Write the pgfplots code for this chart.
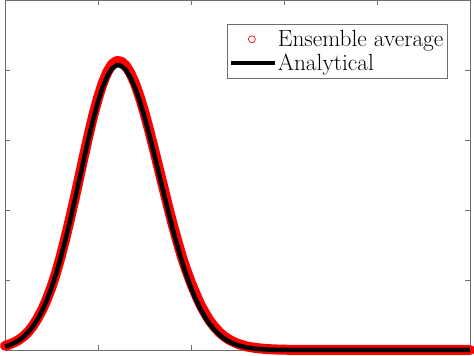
\documentclass[border=0pt]{standalone}
\usepackage{pgfplots}
\usepackage{graphicx}
\pgfplotsset{compat=1.18}
\begin{document}
\begin{tikzpicture}
\definecolor{axgray}{RGB}{110,110,110}
\begin{axis}[
  scale only axis, width=465pt, height=350pt,
  xmin=0, xmax=5, ymin=0, ymax=5,
  xtick={0,1,2,3,4,5}, ytick={0,1,2,3,4,5},
  xticklabels={}, yticklabels={},
  tick align=inside, major tick length=5pt,
  axis line style={axgray, line width=0.7pt},
  every tick/.style={axgray, line width=0.7pt},
  clip=false,
  legend cell align=left,
  legend style={at={(rel axis cs:0.951,0.931)}, anchor=north east,
    draw=axgray, line width=0.6pt, font=\fontsize{17.28}{20}\selectfont,
    inner xsep=2pt, inner ysep=5pt, row sep=4pt,
    nodes={inner xsep=1.5pt, inner ysep=1pt}},
]
\addplot[red, line width=10pt, line join=round, line cap=round,
  legend image code/.code={\draw[red, line width=0.7pt] (0.75cm,0) circle (3.5pt);}]
coordinates {
(0,0.06) (0.05,0.08) (0.1,0.11) (0.15,0.145) (0.2,0.195) (0.25,0.26) (0.3,0.345)
(0.35,0.45) (0.4,0.575) (0.45,0.725) (0.5,0.90) (0.55,1.105) (0.6,1.34) (0.65,1.60)
(0.7,1.88) (0.75,2.17) (0.8,2.475) (0.85,2.78) (0.9,3.075) (0.95,3.355) (1.0,3.60)
(1.05,3.81) (1.1,3.97) (1.15,4.08) (1.2,4.13) (1.25,4.12) (1.3,4.06) (1.35,3.95)
(1.4,3.80) (1.45,3.61) (1.5,3.39) (1.55,3.14) (1.6,2.88) (1.65,2.61) (1.7,2.34)
(1.75,2.07) (1.8,1.81) (1.85,1.57) (1.9,1.34) (1.95,1.14) (2.0,0.96) (2.05,0.80)
(2.1,0.65) (2.15,0.53) (2.2,0.42) (2.25,0.335) (2.3,0.26) (2.35,0.20) (2.4,0.155)
(2.45,0.12) (2.5,0.09) (2.6,0.05) (2.7,0.028) (2.8,0.015) (2.9,0.008) (3.0,0.004)
(3.2,0.001) (3.5,0) (4,0) (4.5,0) (5,0)
};
\addlegendentry{\scalebox{1.35}{Ensemble average}}
\addplot[black, line width=4.5pt, line join=round,
  legend image code/.code={\draw[black, line width=3.5pt] (0cm,0) -- (1.55cm,0);}]
coordinates {
(0,0.0504) (0.05,0.0718) (0.1,0.1008) (0.15,0.1394) (0.2,0.1900) (0.25,0.2550)
(0.3,0.3374) (0.35,0.4395) (0.4,0.5645) (0.45,0.7139) (0.5,0.8897) (0.55,1.0924)
(0.6,1.3215) (0.65,1.5751) (0.7,1.8494) (0.75,2.1396) (0.8,2.4387) (0.85,2.7387)
(0.9,3.0301) (0.95,3.3032) (1.0,3.5474) (1.05,3.7534) (1.1,3.9129) (1.15,4.0191)
(1.2,4.0673) (1.215,4.07) (1.25,4.0577) (1.3,3.9980) (1.35,3.8910) (1.4,3.7404)
(1.45,3.5511) (1.5,3.3305) (1.55,3.0851) (1.6,2.8225) (1.65,2.5511) (1.7,2.2772)
(1.75,2.0077) (1.8,1.7485) (1.85,1.5039) (1.9,1.2776) (1.95,1.0720) (2.0,0.8889)
(2.05,0.7277) (2.1,0.5885) (2.15,0.4701) (2.2,0.3708) (2.25,0.2889) (2.3,0.2224)
(2.35,0.1691) (2.4,0.1270) (2.45,0.0942) (2.5,0.0690) (2.6,0.0357) (2.7,0.0176)
(2.8,0.0082) (2.9,0.0037) (3.0,0.0015) (3.2,0.0002) (3.5,0) (4,0) (4.5,0) (5,0)
};
\addlegendentry{\scalebox{1.35}{Analytical}}
\end{axis}
\pgfresetboundingbox
\path (-5pt,-6pt) rectangle (469pt,350pt);
\end{tikzpicture}
\end{document}
